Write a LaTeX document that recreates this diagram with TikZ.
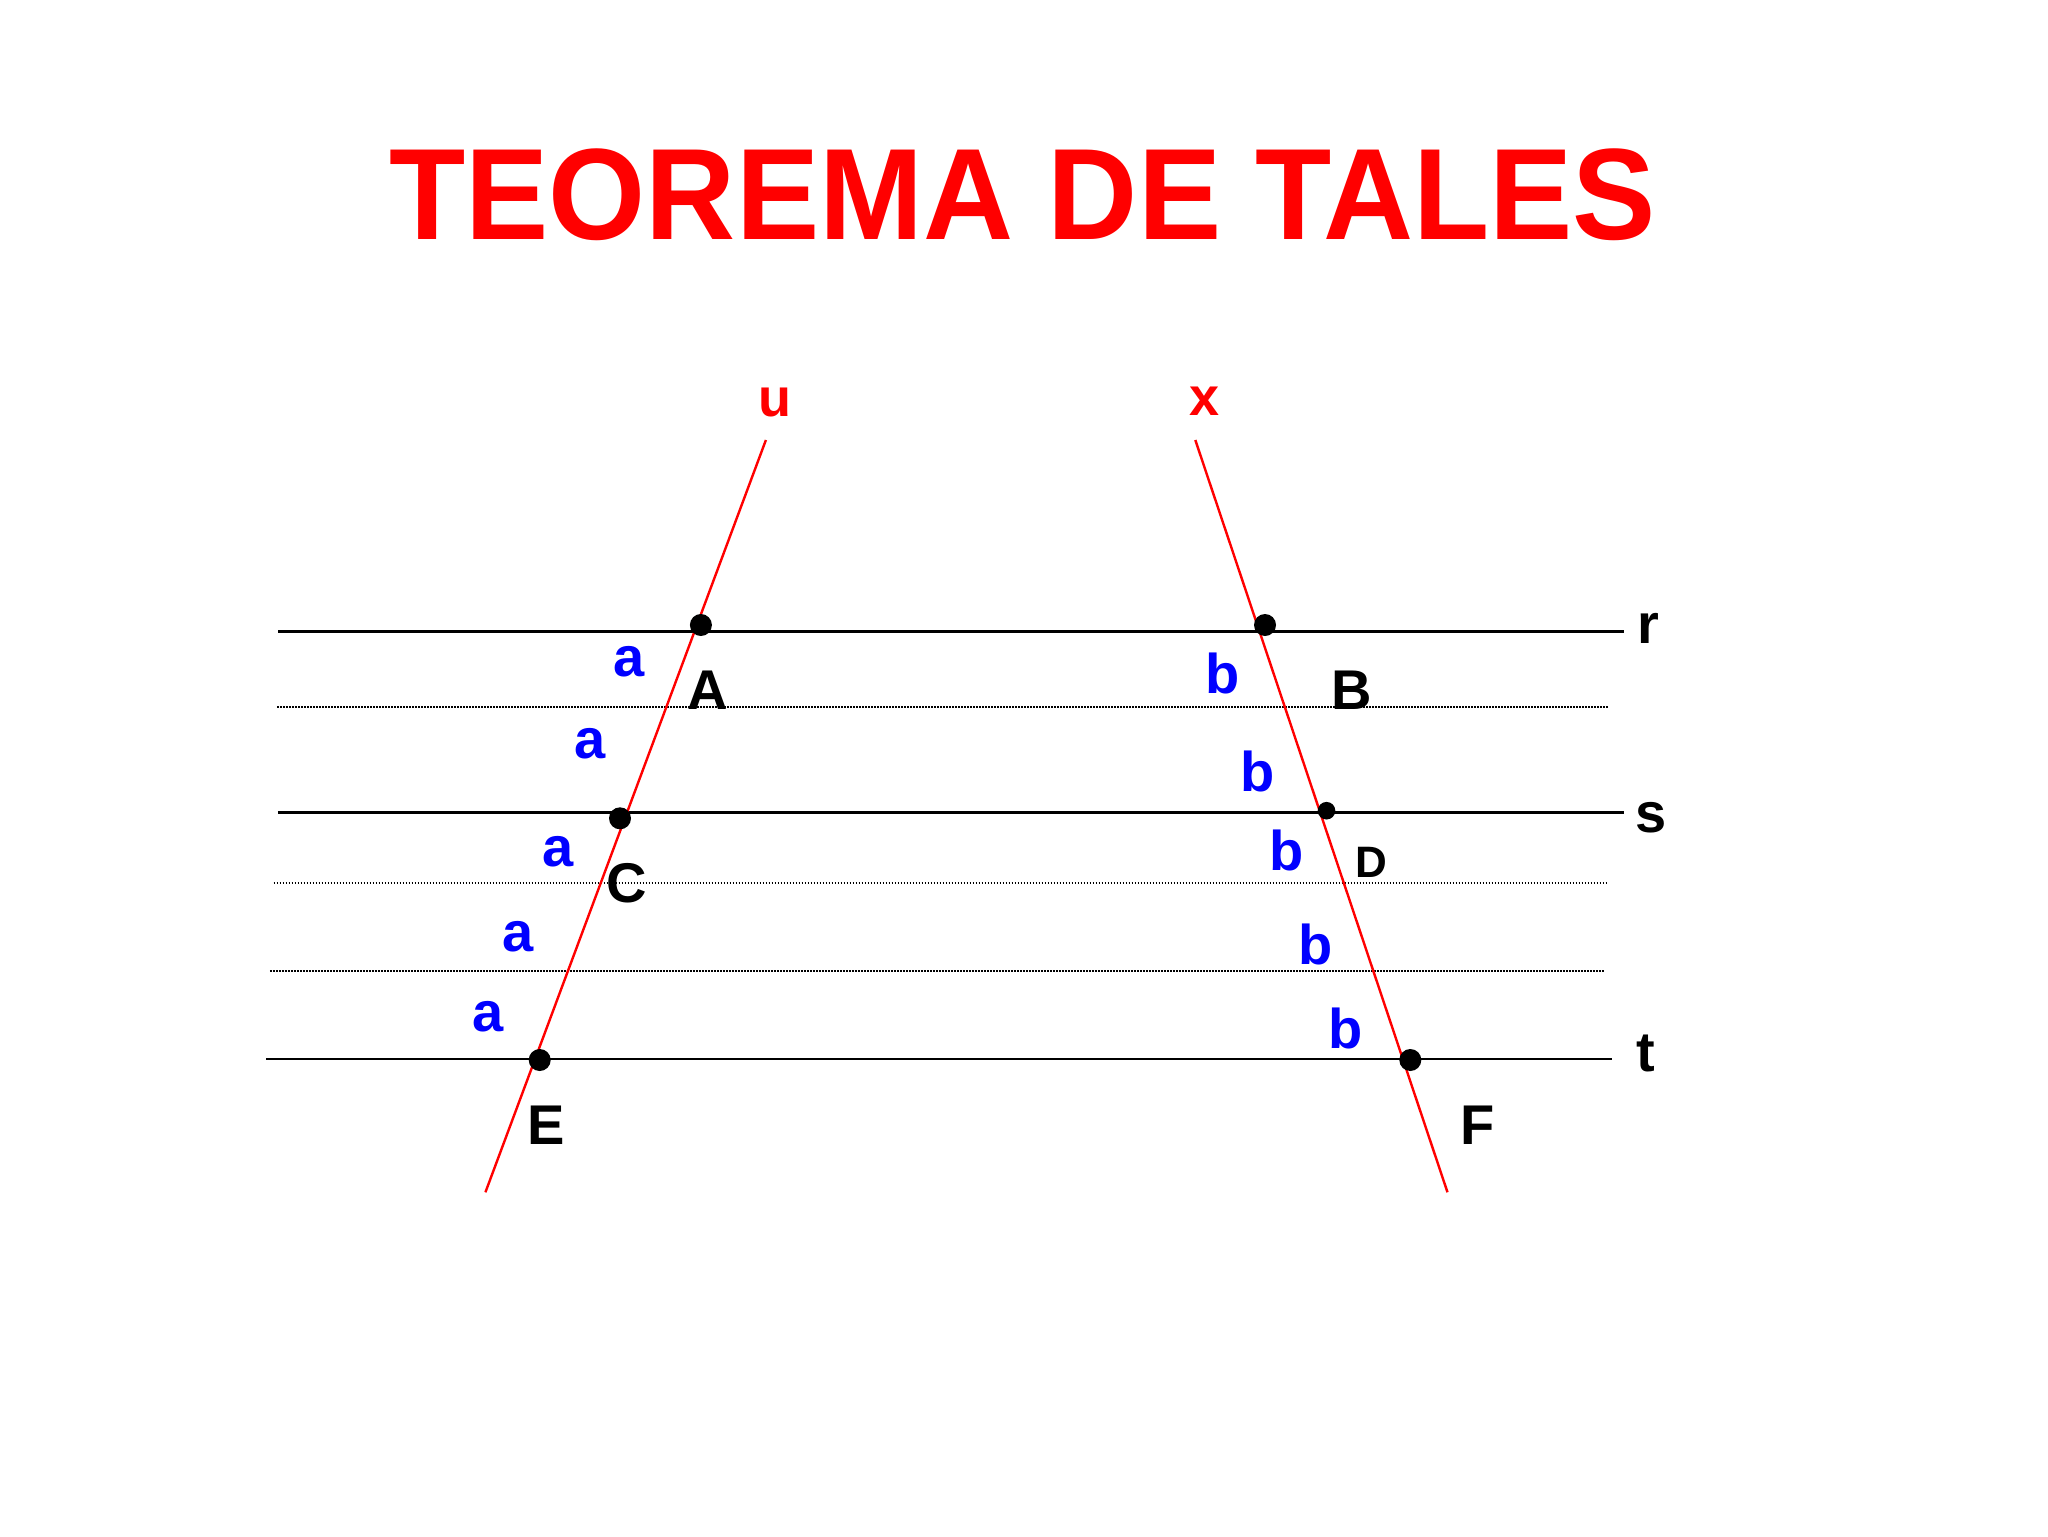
\documentclass[tikz,border=0pt]{standalone}
\usepackage{fontspec}
\setmainfont{Liberation Sans}
\begin{document}
\begin{tikzpicture}[x=0.5pt,y=-0.5pt,
  solidline/.style={black, line width=1.3pt},
  dotline/.style={black, line width=1pt, dash pattern=on 0.8pt off 0.7pt},
  redline/.style={red, line width=1.2pt},
  lbl/.style={inner sep=0pt, font=\fontsize{28}{30}\selectfont\bfseries},
  smalllbl/.style={inner sep=0pt, font=\fontsize{22}{24}\selectfont\bfseries},
  seglbl/.style={lbl, text=blue},
  linelbl/.style={inner sep=0pt, font=\fontsize{27}{29}\selectfont\bfseries, text=red},
  bigdot/.style={fill=black, circle, inner sep=0pt, minimum size=11pt},
  smalldot/.style={fill=black, circle, inner sep=0pt, minimum size=8.8pt}]
\useasboundingbox[fill=white] (0,0) rectangle (2048,1536);

% title
\node[inner sep=0pt, text=red] (title) at (1022.6,194.5)
  {\scalebox{0.96}[1]{\fontsize{65}{70}\selectfont\bfseries TEOREMA DE TALES}};

% horizontal lines
\coordinate (r1) at (278,631.7);   \coordinate (r2) at (1623.6,631.7);
\coordinate (d11) at (277.2,706.7); \coordinate (d12) at (1608.5,706.7);
\coordinate (s1) at (277.9,812.3); \coordinate (s2) at (1623.6,812.3);
\coordinate (d21) at (273.7,883.3); \coordinate (d22) at (1606,883.3);
\coordinate (d31) at (269.9,971);  \coordinate (d32) at (1604.3,971);
\coordinate (t1) at (266.1,1059);  \coordinate (t2) at (1612,1059);
\draw[solidline] (r1) -- (r2);
\draw[solidline] (s1) -- (s2);
\draw[solidline] (t1) -- (t2);
\draw[dotline] (d11) -- (d12);
\draw[dotline] (d21) -- (d22);
\draw[dotline] (d31) -- (d32);

% transversals
\coordinate (u1) at (765.9,440);  \coordinate (u2) at (485.4,1192.3);
\coordinate (x1) at (1195.3,440); \coordinate (x2) at (1447.5,1192.3);
\draw[redline] (u1) -- (u2);
\draw[redline] (x1) -- (x2);

% points
\node[bigdot] (A) at (700.9,625) {};
\node[bigdot] (B) at (1265,625) {};
\node[bigdot] (C) at (620,818.3) {};
\node[smalldot] (D) at (1326.5,810.7) {};
\node[bigdot] (E) at (539.7,1060) {};
\node[bigdot] (F) at (1410.3,1060) {};

% line names
\node[linelbl] (lu) at (774.7,402.5) {u};
\node[linelbl] (lx) at (1204.4,401.7) {x};
\node[lbl] (lr) at (1648.1,628.3) {r};
\node[lbl] (ls) at (1651,817.3) {s};
\node[lbl] (lt) at (1645.7,1053.3) {t};

% point names
\node[lbl] (lA) at (707.8,690) {A};
\node[lbl] (lB) at (1351.7,690) {B};
\node[lbl] (lC) at (627,883.3) {C};
\node[smalllbl] (lD) at (1371,862.7) {D};
\node[lbl] (lE) at (545.8,1125) {E};
\node[lbl] (lF) at (1478,1125) {F};

% segment labels
\node[seglbl] (a1) at (629.3,661.7) {a};
\node[seglbl] (a2) at (589.9,743.3) {a};
\node[seglbl] (a3) at (558.1,851.7) {a};
\node[seglbl] (a4) at (517.9,936.7) {a};
\node[seglbl] (a5) at (488,1016.7) {a};
\node[seglbl] (b1) at (1223,673.3) {b};
\node[seglbl] (b2) at (1257.8,771.9) {b};
\node[seglbl] (b3) at (1286.1,850.7) {b};
\node[seglbl] (b4) at (1315.6,944.3) {b};
\node[seglbl] (b5) at (1345.4,1028.3) {b};
\end{tikzpicture}
\end{document}
